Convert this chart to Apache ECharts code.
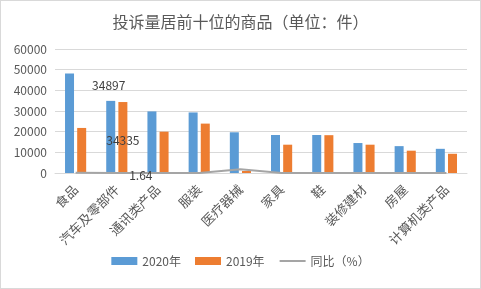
<!DOCTYPE html>
<html>
<head>
<meta charset="utf-8">
<script src="https://cdn.jsdelivr.net/npm/echarts@6/dist/echarts.min.js"></script>
<style>
  html, body { margin: 0; padding: 0; background: #fff; }
  #main { width: 479px; height: 287px; border: 1px solid #d9d9d9; }
</style>
</head>
<body>
<div id="main"></div>
<script>
var categories = ['食品', '汽车及零部件', '通讯类产品', '服装', '医疗器械', '家具', '鞋', '装修建材', '房屋', '计算机类产品'];
var data2020 = [48200, 34897, 29800, 29300, 19700, 18400, 18400, 14500, 13000, 11700];
var data2019 = [21800, 34335, 20000, 23900, 1000, 13700, 18300, 13700, 10800, 9300];
var yoy = [121, 1.64, 49, 23, 1870, 34, 1, 6, 20, 26];

var font = '"Noto Sans CJK SC", "Noto Sans", sans-serif';
var chart = echarts.init(document.getElementById('main'));

// only the 汽车及零部件 points carry labels, like the original
var blueData = data2020.map(function (v, i) {
  if (i === 1) return { value: v, label: { show: true, position: 'top', offset: [-2, -4], color: '#404040', fontSize: 12 } };
  return v;
});
var orangeData = data2019.map(function (v, i) {
  if (i === 1) return { value: v, label: { show: true, position: 'insideTop', offset: [0, 27], color: '#404040', fontSize: 12 } };
  return v;
});
var yoyData = yoy.map(function (v, i) {
  if (i === 1) return {
    value: v, symbol: 'circle', symbolSize: 1,
    label: { show: true, position: 'bottom', color: '#404040', fontSize: 12 }
  };
  return v;
});

chart.setOption({
  animation: false,
  textStyle: { fontFamily: font },
  title: {
    text: '投诉量居前十位的商品（单位：件）',
    left: 'center',
    top: 8,
    textStyle: { fontSize: 16, fontWeight: 'normal', color: '#595959', fontFamily: font }
  },
  grid: { left: 54, right: 13, top: 48, bottom: 115 },
  legend: {
    bottom: 16,
    itemWidth: 26,
    itemHeight: 8,
    itemGap: 14,
    textStyle: { fontSize: 12, color: '#595959' },
    data: [
      { name: '2020年', icon: 'rect' },
      { name: '2019年', icon: 'rect' },
      { name: '同比（%）', itemStyle: { opacity: 0 } }
    ]
  },
  xAxis: {
    type: 'category',
    data: categories,
    axisLine: { lineStyle: { color: '#d9d9d9' } },
    axisTick: { show: false },
    axisLabel: { rotate: 45, interval: 0, color: '#595959', fontSize: 13, margin: 14 }
  },
  yAxis: {
    type: 'value',
    min: 0,
    max: 60000,
    interval: 10000,
    axisLine: { show: false },
    axisTick: { show: false },
    axisLabel: { color: '#595959', fontSize: 12, margin: 8, formatter: function (v) { return String(v); } },
    splitLine: { lineStyle: { color: '#d9d9d9' } }
  },
  series: [
    {
      name: '2020年',
      type: 'bar',
      barWidth: 9,
      barGap: '35%',
      itemStyle: { color: '#5b9bd5' },
      data: blueData
    },
    {
      name: '2019年',
      type: 'bar',
      barWidth: 9,
      itemStyle: { color: '#ed7d31' },
      data: orangeData
    },
    {
      name: '同比（%）',
      type: 'line',
      symbol: 'none',
      z: 5,
      lineStyle: { color: '#a5a5a5', width: 2 },
      itemStyle: { color: '#a5a5a5' },
      labelLayout: function (p) {
        return { dx: 24, dy: -9, hideOverlap: false };
      },
      data: yoyData
    }
  ]
});
</script>
</body>
</html>
